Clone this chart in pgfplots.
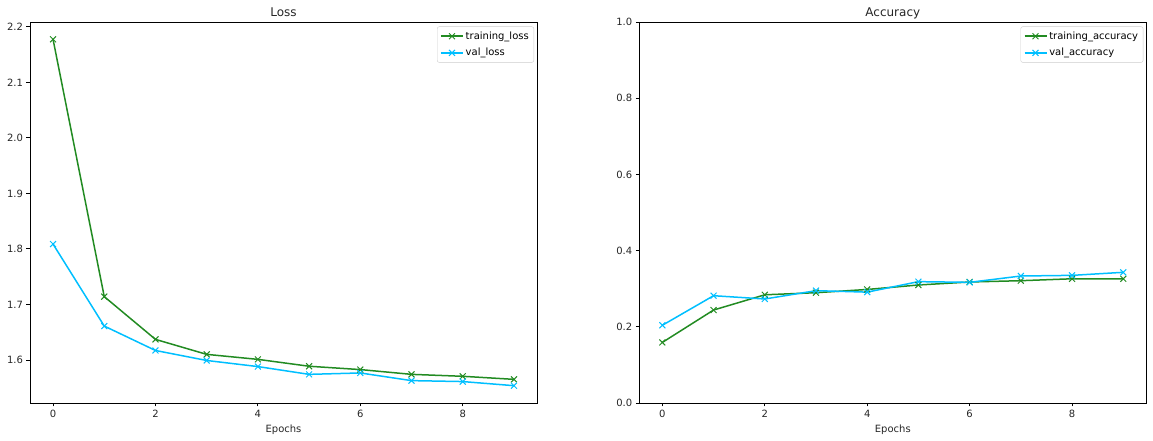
\documentclass[border=0pt]{standalone}
\usepackage{fontspec}
\setmainfont{DejaVu Sans}
\usepackage{pgfplots}
\pgfplotsset{compat=1.18}
\definecolor{trgreen}{RGB}{34,139,34}
\definecolor{valblue}{RGB}{0,191,255}
\definecolor{txt}{RGB}{38,38,38}
\pgfplotsset{
  every axis title shift=0pt,
  mpl/.style={
    scale only axis, width=507pt, height=381pt,
    xmin=-0.45, xmax=9.45,
    xtick={0,2,4,6,8},
    tick align=outside, major tick length=3.5pt,
    xtick pos=bottom, ytick pos=left,
    axis line style={black, line width=0.8pt},
    tick style={black, line width=0.8pt},
    every tick label/.append style={font=\fontsize{10}{12}\selectfont, text=txt},
    /pgf/number format/assume math mode=true,
    label style={font=\fontsize{10}{12}\selectfont, text=txt},
    title style={font=\fontsize{12}{14}\selectfont, text=txt, at={(0.5,1)}, anchor=base, yshift=5.5pt},
    xlabel={Epochs},
    legend style={at={(1,1)}, anchor=north east, xshift=-3pt, yshift=-4.5pt,
      draw=black!20, rounded corners=2pt, font=\fontsize{10}{12}\selectfont,
      inner sep=3pt, row sep=3.5pt,
      nodes={inner sep=2pt}},
    legend cell align=left,
    legend image code/.code={%
      \draw[mark repeat=2, mark phase=2] plot coordinates {(0pt,0pt) (11pt,0pt) (22pt,0pt)};},
    every axis plot/.append style={line width=1.5pt, mark=x, mark size=4.2pt, mark options={line width=1pt}},
  }
}
\begin{document}
\begin{tikzpicture}
\useasboundingbox (-30pt,-38pt) rectangle (1123pt,403pt);
\begin{axis}[mpl, at={(0pt,0pt)}, anchor=south west,
  title={Loss},
  ymin=1.5224, ymax=2.2087,
  ytick={1.6,1.7,1.8,1.9,2.0,2.1,2.2},
  yticklabel style={/pgf/number format/.cd, fixed, fixed zerofill, precision=1},
]
\addplot[trgreen] coordinates {(0,2.1775) (1,1.714) (2,1.637) (3,1.610) (4,1.601) (5,1.5886) (6,1.5826) (7,1.574) (8,1.5705) (9,1.565)};
\addlegendentry{training\_loss}
\addplot[valblue] coordinates {(0,1.8087) (1,1.661) (2,1.617) (3,1.599) (4,1.588) (5,1.574) (6,1.5765) (7,1.5627) (8,1.561) (9,1.5536)};
\addlegendentry{val\_loss}
\end{axis}
\begin{axis}[mpl, at={(609.3pt,0pt)}, anchor=south west,
  title={Accuracy},
  ymin=0, ymax=1,
  ytick={0,0.2,0.4,0.6,0.8,1.0},
  yticklabel style={/pgf/number format/.cd, fixed, fixed zerofill, precision=1},
]
\addplot[trgreen] coordinates {(0,0.159) (1,0.244) (2,0.284) (3,0.2895) (4,0.298) (5,0.3097) (6,0.3176) (7,0.321) (8,0.326) (9,0.326)};
\addlegendentry{training\_accuracy}
\addplot[valblue] coordinates {(0,0.204) (1,0.2816) (2,0.273) (3,0.2948) (4,0.291) (5,0.3185) (6,0.3167) (7,0.3333) (8,0.335) (9,0.343)};
\addlegendentry{val\_accuracy}
\end{axis}
\end{tikzpicture}
\end{document}
